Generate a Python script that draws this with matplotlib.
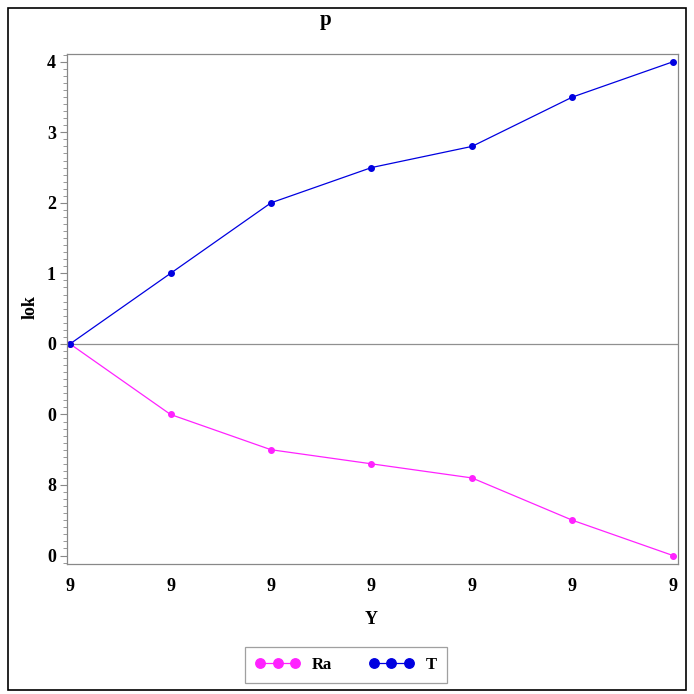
import matplotlib
matplotlib.use("Agg")
import matplotlib.pyplot as plt
from matplotlib.patches import Rectangle
from matplotlib.ticker import FixedLocator, FixedFormatter, MultipleLocator

x_values = [0, 1, 2, 3, 4, 5, 6]
x_tick_labels = ["9", "9", "9", "9", "9", "9", "9"]
series_pink = [0, -1.0, -1.5, -1.7, -1.9, -2.5, -3.0]
series_blue = [0, 1.0, 2.0, 2.5, 2.8, 3.5, 4.0]
y_ticks = [4, 3, 2, 1, 0, -1, -2, -3]
y_tick_labels = ["4", "3", "2", "1", "0", "0", "8", "0"]
title_text = "p"
x_label = "Y"
y_label = "lok"
legend_labels = ["Ra", "T"]

W = H = 694
fig = plt.figure(figsize=(6.94, 6.94), dpi=100)
font = {"family": "Liberation Serif", "weight": "bold"}

fig.patches.append(Rectangle((8 / W, 4 / H), 678 / W, 682 / H, transform=fig.transFigure,
                             fill=False, edgecolor="black", linewidth=1.2))

ax = fig.add_axes([67 / W, 1 - 564 / H, 611 / W, 510 / H])
ax.plot(x_values, series_pink, color="#ff22ff", marker="o", markersize=4, linewidth=0.9, label=legend_labels[0])
ax.plot(x_values, series_blue, color="#0000e0", marker="o", markersize=4, linewidth=0.9, label=legend_labels[1])
ax.axhline(0, color="#909090", linewidth=0.9, zorder=0)

ax.set_xlim(-0.03, 6.05)
ax.set_ylim(-3.12, 4.11)
for s in ax.spines.values():
    s.set_color("#888888")
    s.set_linewidth(0.9)

ax.xaxis.set_major_locator(FixedLocator(x_values))
ax.xaxis.set_major_formatter(FixedFormatter(x_tick_labels))
ax.tick_params(axis="x", length=0, pad=10, labelsize=13)
ax.yaxis.set_major_locator(FixedLocator(y_ticks))
ax.yaxis.set_major_formatter(FixedFormatter(y_tick_labels))
ax.yaxis.set_minor_locator(MultipleLocator(0.1))
ax.tick_params(axis="y", which="major", length=5, color="#888888", labelsize=13, pad=3)
ax.tick_params(axis="y", which="minor", length=3, color="#888888")
for lbl in ax.get_xticklabels() + ax.get_yticklabels():
    lbl.set_family("Liberation Serif")
    lbl.set_weight("bold")

fig.text(326 / W, 1 - 20 / H, title_text, ha="center", va="center", fontsize=15, **font)
fig.text(371 / W, 1 - 620 / H, x_label, ha="center", va="center", fontsize=13, **font)
fig.text(30 / W, 1 - 307 / H, y_label, ha="center", va="center", rotation=90, fontsize=13, **font)

leg = ax.legend(loc="center", bbox_to_anchor=(346 / W, 1 - 665 / H), bbox_transform=fig.transFigure,
                ncol=2, numpoints=3, frameon=True, fancybox=False, edgecolor="#888888",
                prop={"family": "Liberation Serif", "weight": "bold", "size": 12},
                markerscale=1.7, handlelength=2.7, handletextpad=0.7, columnspacing=2.2, borderpad=0.6)
leg.get_frame().set_linewidth(0.9)

fig.savefig("out.png", dpi=100)
